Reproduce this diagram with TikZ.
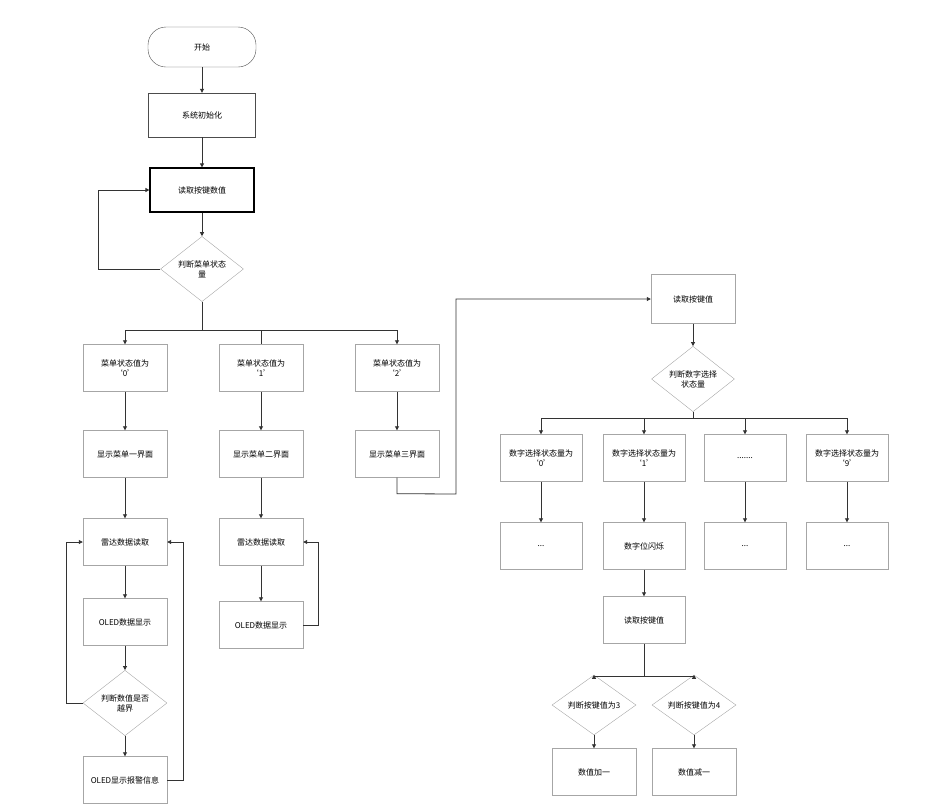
\documentclass[tikz,border=0pt]{standalone}
\usepackage{fontspec}
\setmainfont{Noto Sans CJK SC}
\usetikzlibrary{shapes.geometric,arrows.meta}
\begin{document}
\begin{tikzpicture}
    [x=1pt,y=-1pt,font=\fontsize{8}{10}\selectfont,
    box/.style={shape=rectangle,draw=black!35,minimum width=84pt,minimum height=47pt,align=center},
    term/.style={shape=rectangle,rounded corners=18pt,draw=black!70,minimum width=108pt,minimum height=40pt},
    dec/.style={shape=diamond,draw=black!35,minimum width=84pt,minimum height=46pt,inner sep=0pt,align=center},
    arc/.style={-{Triangle[length=4pt,width=4pt]},draw=black!80,thick},
    edge/.style={draw=black!80,thick}]
    \useasboundingbox (0,0) rectangle (946,812);

    \node (start) [term] at (202,47) {开始};
    \node (init) [box,draw=black!70,minimum width=107pt,minimum height=44pt] at (202,115) {系统初始化};
    \node (read) [box,draw=black,very thick,minimum width=104pt,minimum height=44pt] at (202,190) {读取按键数值};
    \node (menu) [dec,minimum width=83pt,minimum height=44pt] at (202,269) {判断菜单状态\\量};

    \node (m0) [box] at (125,368) {菜单状态值为\\‘0’};
    \node (m1) [box] at (261,368) {菜单状态值为\\‘1’};
    \node (m2) [box] at (397,368) {菜单状态值为\\‘2’};
    \node (s0) [box] at (125,454) {显示菜单一界面};
    \node (s1) [box] at (261,454) {显示菜单二界面};
    \node (s2) [box] at (397,454) {显示菜单三界面};

    \node (radarA) [box] at (125,542) {雷达数据读取};
    \node (oledA) [box] at (125,622) {OLED数据显示};
    \node (range) [dec] at (125,703) {判断数值是否\\越界};
    \node (alarm) [box] at (125,780) {OLED显示报警信息};
    \node (radarB) [box] at (261,542) {雷达数据读取};
    \node (oledB) [box] at (261,625) {OLED数据显示};

    \node (key) [box,minimum height=49pt] at (693,299) {读取按键值};
    \node (digit) [dec,minimum width=83pt,minimum height=48pt] at (693,379) {判断数字选择\\状态量};
    \node (d0) [box,minimum width=82pt] at (541,458) {数字选择状态量为\\‘0’};
    \node (d1) [box,minimum width=82pt] at (644,458) {数字选择状态量为\\‘1’};
    \node (dx) [box,minimum width=82pt] at (745,458) {.......};
    \node (d9) [box,minimum width=82pt] at (847,458) {数字选择状态量为\\‘9’};
    \node (e0) [box,minimum width=82pt] at (541,546) {...};
    \node (e1) [box,minimum width=82pt] at (644,546) {数字位闪烁};
    \node (ex) [box,minimum width=82pt] at (745,546) {...};
    \node (e9) [box,minimum width=82pt] at (847,546) {...};
    \node (key2) [box,minimum width=82pt] at (644,620) {读取按键值};
    \node (k3) [dec] at (594,705) {判断按键值为3};
    \node (k4) [dec] at (694,705) {判断按键值为4};
    \node (inc) [box] at (594,772) {数值加一};
    \node (dec) [box] at (694,772) {数值减一};

    \draw [arc] (start) -- (init);
    \draw [arc] (init) -- (read);
    \draw [arc] (read) -- (menu);
    \draw [arc] (menu.west) -- ++(-62,0) |- (read.west);
    \draw [edge] (menu.south) -- (202,330);
    \draw [arc] (202,330) -| (m0.north);
    \draw [arc] (202,330) -| (m2.north);
    \draw [edge] (261,330) -- (m1.north);
    \foreach \a/\b in {m0/s0,m1/s1,m2/s2,s0/radarA,radarA/oledA,oledA/range,range/alarm,s1/radarB,radarB/oledB}
        \draw [arc] (\a) -- (\b);
    \draw [arc] (range.west) -- ++(-16,0) |- (radarA.west);
    \draw [arc] (alarm.east) -- ++(16,0) |- (radarA.east);
    \draw [arc] (oledB.east) -- ++(15,0) |- (radarB.east);
    \draw [arc] (s2.south) -- ++(0,16) -- (456,494) -- (456,299) -- (key.west);

    \draw [arc] (key) -- (digit);
    \draw [edge] (digit.south) -- (693,418);
    \foreach \n in {d0,d1,dx,d9}
        \draw [arc] (693,418) -| (\n.north);
    \foreach \a/\b in {d0/e0,d1/e1,dx/ex,d9/e9,e1/key2,k3/inc,k4/dec}
        \draw [arc] (\a) -- (\b);
    \draw [edge] (key2.south) -- (644,676);
    \draw [arc] (644,676) -| (k3.north);
    \draw [arc] (644,676) -| (k4.north);
\end{tikzpicture}
\end{document}
